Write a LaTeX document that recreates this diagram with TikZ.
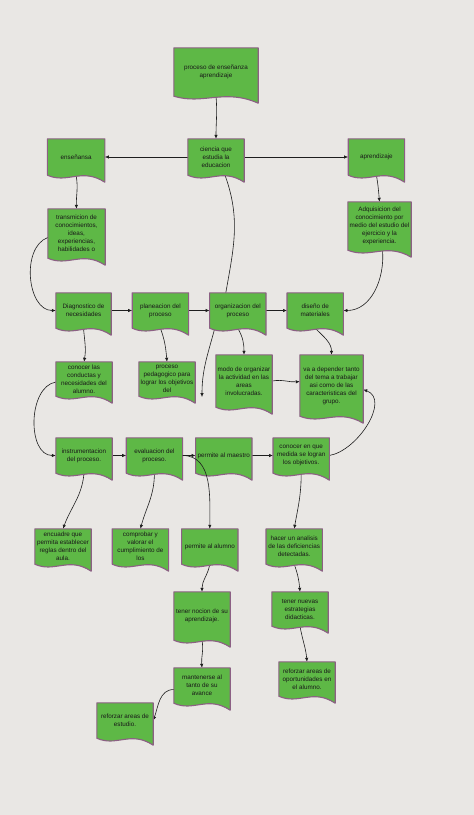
\documentclass[tikz,border=0pt]{standalone}
\usepackage{fontspec}
\setmainfont{Liberation Sans}
\usepackage{tikz}
\usetikzlibrary{arrows.meta,positioning,calc}
\definecolor{docgreen}{RGB}{94,184,70}
\definecolor{docedge}{RGB}{140,96,132}
\definecolor{pagebg}{RGB}{233,231,228}
\definecolor{linkgray}{RGB}{30,30,30}
\pgfdeclarelayer{bg}
\pgfdeclarelayer{edges}
\pgfdeclarelayer{shapes}
\pgfsetlayers{bg,edges,shapes,main}

\begin{document}
\begin{tikzpicture}[
    x=1pt, y=-1pt,
    font=\fontsize{6.3}{8}\selectfont,
    node distance=0mm,
    doc/.style={minimum width=56pt, minimum height=35pt, inner sep=1pt, align=center, text=black!90},
    docline/.style={draw=docedge, fill=docgreen, line width=1.1pt, line join=round},
    link/.style={-{Latex[length=4pt,width=3.4pt]}, line width=0.6pt, draw=linkgray},
    plainlink/.style={line width=0.6pt, draw=linkgray}
]
\begin{pgfonlayer}{bg}
\fill[pagebg] (0,0) rectangle (474,815);
\end{pgfonlayer}
\useasboundingbox (0,0) rectangle (474,815);

\node[doc, minimum width=84pt, minimum height=48pt] (proc) at (216,72) {proceso de enseñanza\\aprendizaje};
\node[doc, minimum height=36pt] (cien) at (216,157) {ciencia que\\estudia la\\educacion};
\node[doc, minimum width=57pt, minimum height=36pt, left=83pt of cien] (ens) {enseñansa};
\node[doc, minimum height=36pt, right=104pt of cien] (apr) {aprendizaje};
\node[doc, minimum width=57pt, minimum height=49pt] (trans) at (76.5,233.5) {transmicion de\\conocimientos,\\ideas,\\experiencias,\\habilidades o};
\node[doc, minimum width=63pt, minimum height=48pt] (adq) at (379.5,226) {Adquisicion del\\conocimiento por\\medio del estudio del\\ejercicio y la\\experiencia.};

\node[doc, minimum width=55pt] (diag) at (83.5,310.5) {Diagnostico de\\necesidades};
\node[doc, right=21pt of diag] (plan) {planeacion del\\proceso};
\node[doc, right=21pt of plan] (org) {organizacion del\\proceso};
\node[doc, right=21pt of org] (dis) {diseño de\\materiales};

\node[doc, minimum height=34pt] (cond) at (84,379) {conocer las\\conductas y\\necesidades del\\alumno.};
\node[doc, minimum height=34pt] (ped) at (167,379) {proceso\\pedagogico para\\lograr los objetivos\\del};
\node[doc, minimum height=52pt] (modo) at (244,381) {modo de organizar\\la actividad en las\\areas\\involucradas.};
\node[doc, minimum width=63pt, minimum height=61pt] (va) at (331.5,385.5) {va a depender tanto\\del tema a trabajar\\asi como de las\\caracteristicas del\\grupo.};

\node[doc] (instr) at (84,455.5) {instrumentacion\\del proceso.};
\node[doc, right=14pt of instr] (eval) {evaluacion del\\proceso.};
\node[doc, right=13pt of eval] (maes) {permite al maestro};
\node[doc, right=21pt of maes] (conen) {conocer en que\\medida se logran\\los objetivos.};

\node[doc] (encu) at (63,546.5) {encuadre que\\permita establecer\\reglas dentro del\\aula.};
\node[doc, right=21pt of encu] (comp) {comprobar y\\valorar el\\cumplimiento de\\los};
\node[doc, right=13pt of comp] (alum) {permite al alumno};
\node[doc, right=28pt of alum] (hacer) {hacer un analisis\\de las deficiencias\\detectadas.};

\node[doc, minimum height=48pt] (noc) at (202,616) {tener nocion de su\\aprendizaje.};
\node[doc, minimum height=34pt] (nuev) at (300,609) {tener nuevas\\estrategias\\didacticas.};
\node[doc] (mant) at (202,685.5) {mantenerse al\\tanto de su\\avance};
\node[doc, minimum height=34pt] (refop) at (307,679) {reforzar areas de\\oportunidades en\\el alumno.};
\node[doc] (refest) at (125,720.5) {reforzar areas de\\estudio.};

\coordinate (orgend) at (202,397);

% document outlines with wavy bottom
\begin{pgfonlayer}{shapes}
\foreach \n in {proc,cien,ens,apr,trans,adq,diag,plan,org,dis,cond,ped,modo,va,instr,eval,maes,conen,encu,comp,alum,hacer,noc,nuev,mant,refop,refest}
  \draw[docline] (\n.north west) -- (\n.north east) -- ([yshift=-7pt]\n.south east)
    .. controls ($(\n.south west)!0.6!(\n.south east)+(0,8pt)$) and ($(\n.south west)!0.35!(\n.south east)+(0,-9pt)$) .. (\n.south west) -- cycle;
\end{pgfonlayer}

\begin{pgfonlayer}{edges}
\draw[link] (proc.south) to[out=-85,in=90] (cien.north);
\draw[link] (cien.west) -- (ens.east);
\draw[link] (cien.east) -- (apr.west);
\draw[link] (ens.south) to[out=-80,in=92] (trans.north);
\draw[link] (apr.south) to[out=-80,in=95] (adq.north);
\draw[plainlink] ([xshift=9pt]cien.south) to[out=-70,in=80] ([xshift=-12pt]org.north);
\draw[link] ([yshift=-4pt]trans.west) to[out=200,in=180] (diag.west);
\foreach \a/\b in {diag/plan, plan/org, org/dis, instr/eval, eval/maes, maes/conen}
  \draw[link] (\a.east) -- (\b.west);
\draw[link] ([xshift=3pt]adq.south) to[out=-85,in=0] (dis.east);
\draw[link] (diag.south) to[out=-85,in=80] (cond.north);
\draw[link] (plan.south) to[out=-70,in=95] (ped.north);
\draw[link] (org.south) to[out=-60,in=90] (modo.north);
\draw[link] ([xshift=-23pt]org.south) to[out=-105,in=90] (orgend);
\draw[link] (dis.south) to[out=-45,in=90] (va.north);
\draw[link] (modo.east) to[out=10,in=185] ([yshift=4pt]va.west);
\draw[link] ([yshift=-3pt]cond.west) to[out=190,in=180] (instr.west);
\draw[link] (conen.east) to[out=10,in=-20] ([yshift=-4pt]va.east);
\draw[link] (instr.south) to[out=-95,in=70] (encu.north);
\draw[link] (eval.south) to[out=-90,in=75] (comp.north);
\draw[link] (conen.south) to[out=-90,in=80] (hacer.north);
\draw[link] (alum.south) to[out=-100,in=90] (noc.north);
\draw[link] (hacer.south) to[out=-70,in=95] (nuev.north);
\draw[link] (noc.south) to[out=-80,in=95] (mant.north);
\draw[link] (nuev.south) to[out=-80,in=95] (refop.north);
\draw[link] ([yshift=-4pt]mant.west) to[out=180,in=70] (refest.east);
\end{pgfonlayer}

\draw[link] (eval.east) to[out=0,in=90] (alum.north);
\end{tikzpicture}
\end{document}
